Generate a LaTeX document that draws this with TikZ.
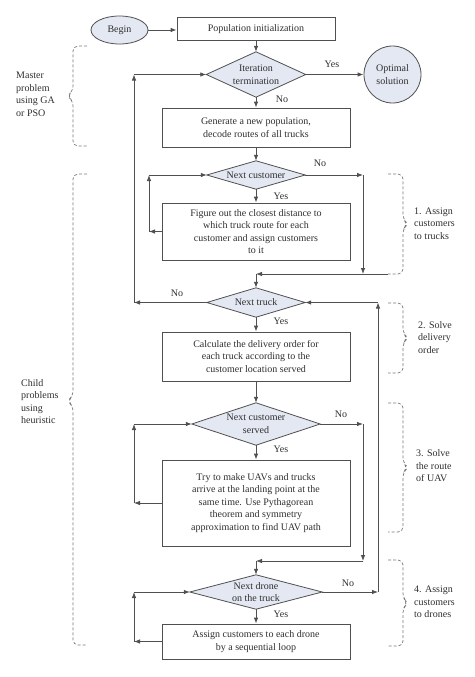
\documentclass[tikz,border=0pt]{standalone}
\usepackage{fontspec}
\setmainfont{Liberation Serif}
\usetikzlibrary{shapes.geometric,arrows.meta,backgrounds}
\definecolor{linec}{HTML}{505050}
\definecolor{txtc}{HTML}{2E2E2E}
\definecolor{fillc}{HTML}{E3E8F3}
\definecolor{bracec}{HTML}{7A7A7A}
\tikzset{
  every node/.style={font=\fontsize{10}{12.5}\selectfont, text=txtc},
  procbox/.style={rectangle, draw=linec, line width=0.8pt, align=center, inner sep=2pt},
  diabox/.style={rectangle, align=center, inner sep=0pt},
  arr/.style={draw=linec, line width=0.8pt, -{Latex[length=6pt,width=4.5pt]}},
  brc/.style={draw=bracec, line width=0.7pt, dash pattern=on 3pt off 2pt, rounded corners=5pt},
  lbl/.style={inner sep=0pt}
}
\begin{document}
\begin{tikzpicture}[x=1pt,y=-1pt]
\useasboundingbox (0,0) rectangle (474,677);
% nodes
\node[ellipse, draw=linec, fill=fillc, line width=0.8pt, minimum width=57pt, minimum height=28pt, inner sep=0pt] (begin) at (119.5,30) {Begin};
\node[procbox, minimum width=158pt, minimum height=23pt] (pop) at (256,29) {Population initialization};
\node[diabox, minimum width=99pt, minimum height=45pt] (it) at (256,74.5) {Iteration\\termination};
\node[circle, draw=linec, fill=fillc, line width=0.8pt, minimum size=57pt, inner sep=0pt, align=center] (opt) at (392.5,74.5) {Optimal\\solution};
\node[procbox, minimum width=188pt, minimum height=39pt] (gen) at (256,127.5) {Generate a new population,\\decode routes of all trucks};
\node[diabox, minimum width=98pt, minimum height=28pt] (nc) at (256,175) {Next customer};
\node[procbox, minimum width=188pt, minimum height=57pt] (fig) at (256,231.5) {Figure out the closest distance to\\which truck route for each\\customer and assign customers\\to it};
\node[diabox, minimum width=98pt, minimum height=29pt] (nt) at (256,302.5) {Next truck};
\node[procbox, minimum width=188pt, minimum height=49pt] (calc) at (256,356.5) {Calculate the delivery order for\\each truck according to the\\customer location served};
\node[diabox, minimum width=128pt, minimum height=42pt] (ncs) at (256,424) {Next customer\\served};
\node[procbox, minimum width=188pt, minimum height=86pt] (try) at (256,503) {Try to make UAVs and trucks\\arrive at the landing point at the\\same time. Use Pythagorean\\theorem and symmetry\\approximation to find UAV path};
\node[diabox, minimum width=132pt, minimum height=34pt] (nd) at (256,592) {Next drone\\on the truck};
\node[procbox, minimum width=188pt, minimum height=35pt] (asg) at (256,641.5) {Assign customers to each drone\\by a sequential loop};
% diamonds
\begin{scope}[on background layer]
\foreach \n in {it,nc,nt,ncs,nd}
  \draw[draw=linec, fill=fillc, line width=0.8pt] (\n.north) -- (\n.east) -- (\n.south) -- (\n.west) -- cycle;
\end{scope}
% reference coordinates
\coordinate (xl) at (134,0);
\coordinate (xm) at (149,0);
\coordinate (xr) at (363,0);
\coordinate (xs) at (378,0);
\coordinate (j1) at (256,274);
\coordinate (j1e) at (388,274);
\coordinate (j2) at (256,561);
% main flow
\draw[arr] (begin.east) -- (begin.east -| pop.west);
\draw[arr] (pop.south) -- (it.north);
\draw[arr] (it.east) -- (opt.west);
\draw[arr] (it.south) -- (gen.north);
\draw[arr] (gen.south) -- (nc.north);
\draw[arr] (nc.south) -- (fig.north);
\draw[arr] (nt.south) -- (calc.north);
\draw[arr] (calc.south) -- (ncs.north);
\draw[arr] (ncs.south) -- (try.north);
\draw[arr] (nd.south) -- (asg.north);
% outer loop: next truck No -> iteration
\draw[arr] (nt.west) -- (nt.west -| xl);
\draw[arr] (nt.west -| xl) -- (it.west -| xl);
\draw[arr] (it.west -| xl) -- (it.west);
% next customer loop
\draw[arr] (fig.west) -- (fig.west -| xm);
\draw[arr] (fig.west -| xm) -- (nc.west -| xm);
\draw[arr] (nc.west -| xm) -- (nc.west);
\draw[arr] (nc.east) -- (nc.east -| xr);
\draw[arr] (nc.east -| xr) -- (xr |- j1);
\draw[arr] (j1e) -- (j1);
\draw[arr] (j1) -- (nt.north);
% next customer served loop
\draw[arr] (try.west) -- (try.west -| xl);
\draw[arr] (try.west -| xl) -- (ncs.west -| xl);
\draw[arr] (ncs.west -| xl) -- (ncs.west);
\draw[arr] (ncs.east) -- (ncs.east -| xr);
\draw[arr] (ncs.east -| xr) -- (xr |- j2);
\draw[arr] (xr |- j2) -- (j2);
\draw[arr] (j2) -- (nd.north);
% next drone loop
\draw[arr] (asg.west) -- (asg.west -| xl);
\draw[arr] (asg.west -| xl) -- (nd.west -| xl);
\draw[arr] (nd.west -| xl) -- (nd.west);
\draw[arr] (nd.east) -- (nd.east -| xs);
\draw[arr] (nd.east -| xs) -- (nt.east -| xs);
\draw[arr] (nt.east -| xs) -- (nt.east);
% Yes / No labels
\node[lbl] (y1) at (332,64) {Yes};
\node[lbl] (n1) at (282,99) {No};
\node[lbl] (n2) at (320,163) {No};
\node[lbl] (y2) at (281,196) {Yes};
\node[lbl] (n3) at (177,293) {No};
\node[lbl] (y3) at (281,321) {Yes};
\node[lbl] (n4) at (341,414) {No};
\node[lbl] (y4) at (281,449) {Yes};
\node[lbl] (n5) at (348,583) {No};
\node[lbl] (y5) at (281,614) {Yes};
% braces
\draw[brc] (87,46) -- (73,46) -- (73,91) -- (67,96) -- (73,101) -- (73,146) -- (87,146);
\draw[brc] (87,174) -- (73,174) -- (73,396) -- (67,401) -- (73,406) -- (73,645) -- (87,645);
\foreach \t/\b in {174/274, 303/373, 403/532, 560/646}
  \draw[brc] (388,\t) -- (403,\t) -- (403,{(\t+\b)/2-5}) -- (408,{(\t+\b)/2}) -- (403,{(\t+\b)/2+5}) -- (403,\b) -- (388,\b);
% brace labels
\node[lbl, anchor=west, align=left] (tm) at (16,94.5) {Master\\problem\\using GA\\or PSO};
\node[lbl, anchor=west, align=left] (tc) at (21,401.5) {Child\\problems\\using\\heuristic};
\node[lbl, anchor=west, align=left] (t1) at (414,223.5) {1. Assign\\customers\\to trucks};
\node[lbl, anchor=west, align=left] (t2) at (418,337.5) {2. Solve\\delivery\\order};
\node[lbl, anchor=west, align=left] (t3) at (416,466) {3. Solve\\the route\\of UAV};
\node[lbl, anchor=west, align=left] (t4) at (414,602) {4. Assign\\customers\\to drones};
\end{tikzpicture}
\end{document}
